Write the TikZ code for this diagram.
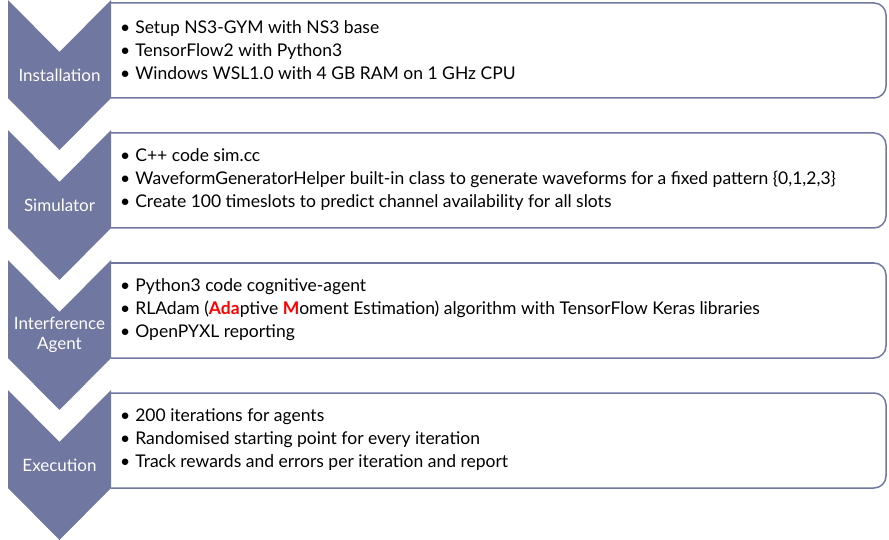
\documentclass[tikz,border=0pt]{standalone}
\usepackage{fontspec}
\setmainfont{Lato}
\definecolor{chevblue}{RGB}{112,119,160}
\definecolor{hlred}{RGB}{255,0,0}
\newcommand{\chevron}[1] % top in px
{
	% arrow body, notch on top, point below
	\fill[chevblue] (8,#1) -- (59.5,#1+52) -- (111,#1) -- (111,#1+98) -- (59.5,#1+150) -- (8,#1+98) -- cycle;
}
\newcommand{\notebox}[1] % top in px
{
	% frame, open on the left where the chevron sits
	\draw[chevblue, line width=1.5pt, rounded corners=12pt] (111,#1+3) -- (886,#1+3) -- (886,#1+98) -- (111,#1+98);
}
\newcommand{\dotitem}{\textbullet\hspace{5pt}}
\newcommand{\hl}[1]{\textcolor{hlred}{\textbf{#1}}}
\tikzset{
	bullets/.style={anchor=west, align=left, inner sep=0pt, font=\fontsize{17.5}{23}\selectfont},
	steplabel/.style={text=white, align=center, inner sep=0pt, font=\fontsize{17}{20}\selectfont}
}
\begin{document}
\begin{tikzpicture}[x=1pt, y=-1pt]
	% 889px x 540px, 1px = 1pt
	\useasboundingbox (0,0) rectangle (889,540);
	% frames
	\notebox{0};
	\notebox{130};
	\notebox{260};
	\notebox{390};
	% chevrons
	\chevron{0};
	\chevron{130};
	\chevron{260};
	\chevron{390};
	% step names
	\node[steplabel] (install) at (59.5,75) {Installation};
	\node[steplabel] (sim) at (59.5,205) {Simulator};
	\node[steplabel] (agent) at (59.5,335) {Interference\\Agent};
	\node[steplabel] (exec) at (59.5,465) {Execution};
	% bullet lists
	\node[bullets] (installtxt) at (120,50) {\dotitem Setup NS3-GYM with NS3 base\\
		\dotitem TensorFlow2 with Python3\\
		\dotitem Windows WSL1.0 with 4 GB RAM on 1 GHz CPU};
	\node[bullets] (simtxt) at (120,180) {\dotitem C++ code sim.cc\\
		\dotitem WaveformGeneratorHelper built-in class to generate waveforms for a fixed pattern \{0,1,2,3\}\\
		\dotitem Create 100 timeslots to predict channel availability for all slots};
	\node[bullets] (agenttxt) at (120,310) {\dotitem Python3 code cognitive-agent\\
		\dotitem RLAdam (\hl{Ada}ptive \hl{M}oment Estimation) algorithm with TensorFlow Keras libraries\\
		\dotitem OpenPYXL reporting};
	\node[bullets] (exectxt) at (120,440) {\dotitem 200 iterations for agents\\
		\dotitem Randomised starting point for every iteration\\
		\dotitem Track rewards and errors per iteration and report};
\end{tikzpicture}
\end{document}
